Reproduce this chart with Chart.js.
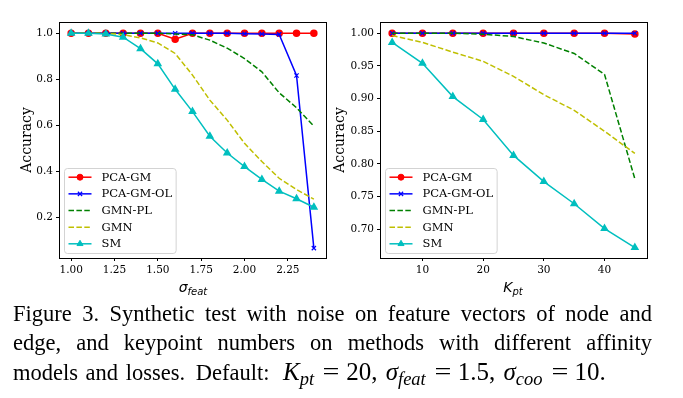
<!DOCTYPE html>
<html>
<head>
<meta charset="utf-8">
<script src="https://cdn.jsdelivr.net/npm/chart.js@4.4.0/dist/chart.umd.min.js"></script>
<style>
  html, body { margin: 0; padding: 0; background: #fff; }
  #page { position: relative; width: 683px; height: 398px; overflow: hidden; background: #fff; }
  canvas { position: absolute; top: 0; }
  .xtitle { position: absolute; width: 120px; text-align: center; font-family: "DejaVu Sans"; font-style: oblique; font-size: 14px; line-height: 16px; color: #000; }
  .xtitle sub { font-size: 10px; vertical-align: -3px; line-height: 0; }
  #caption { position: absolute; left: 13px; top: 299px; width: 639px; font-family: "Liberation Serif", "Times New Roman", serif; font-size: 22.5px; line-height: 29.3px; color: #000; }
  #caption .j { text-align: justify; text-align-last: justify; white-space: nowrap; }
  #caption .last { word-spacing: 2px; white-space: nowrap; }
  #caption .gap { display: inline-block; width: 3px; }
  #caption .math { font-size: 25px; word-spacing: 2px; line-height: 0; }
  #caption i { font-style: italic; }
  #caption sub { font-size: 18.5px; vertical-align: -5px; line-height: 0; font-style: italic; }
  #caption .eq { display: inline-block; width: 18px; margin: 0 6px 0 8px; text-align: center; transform: scaleX(1.2); }
</style>
</head>
<body>
<div id="page">
  <canvas id="featChart" width="335" height="300" style="left:0;width:335px;height:300px"></canvas>
  <canvas id="kptChart" width="353" height="300" style="left:330px;width:353px;height:300px"></canvas>
  <div class="xtitle" style="left:133px;top:279px"><span>σ</span><sub>feat</sub></div>
  <div class="xtitle" style="left:453px;top:279px"><span>K</span><sub>pt</sub></div>
  <div id="caption">
    <div class="j">Figure 3. Synthetic test with noise on feature vectors of node and</div>
    <div class="j">edge, and keypoint numbers on methods with different affinity</div>
    <div class="last">models and losses.<span class="gap"></span> Default:<span class="gap" style="width:6px"></span> <span class="math"><i>K</i><sub>pt</sub><span class="eq">=</span>20, <i>σ</i><sub>feat</sub><span class="eq">=</span>1.5, <i>σ</i><sub>coo</sub><span class="eq">=</span>10.</span></div>
  </div>
</div>
<script>
const methodLabels = ['PCA-GM', 'PCA-GM-OL', 'GMN-PL', 'GMN', 'SM'];

// left panel: noise on features
const sigmaFeat = [1.0, 1.1, 1.2, 1.3, 1.4, 1.5, 1.6, 1.7, 1.8, 1.9, 2.0, 2.1, 2.2, 2.3, 2.4];
const featPcaGm   = [1, 1, 1, 1, 1, 1, 0.974, 1, 1, 1, 1, 1, 1, 1, 1];
const featPcaGmOl = [1, 1, 1, 1, 1, 1, 1, 1, 1, 1, 0.998, 0.997, 0.995, 0.816, 0.065];
const featGmnPl   = [1, 1, 1, 1, 1, 1, 0.997, 0.993, 0.97, 0.935, 0.89, 0.832, 0.741, 0.676, 0.596];
const featGmn     = [1, 1, 1, 0.994, 0.98, 0.958, 0.912, 0.818, 0.709, 0.622, 0.521, 0.442, 0.369, 0.32, 0.278];
const featSm      = [1, 1, 0.997, 0.983, 0.933, 0.867, 0.756, 0.659, 0.552, 0.479, 0.42, 0.364, 0.313, 0.28, 0.243];
const featTicks = [1.00, 1.25, 1.50, 1.75, 2.00, 2.25];
const featAccTicks = [0.2, 0.4, 0.6, 0.8, 1.0];

// right panel: number of keypoints
const kpt = [5, 10, 15, 20, 25, 30, 35, 40, 45];
const kptPcaGm   = [1, 1, 1, 1, 1, 1, 1, 1, 0.999];
const kptPcaGmOl = [1, 1, 1, 1, 1, 1, 1, 1, 1];
const kptGmnPl   = [1, 1, 1, 0.9985, 0.995, 0.985, 0.969, 0.937, 0.777];
const kptGmn     = [0.9965, 0.986, 0.971, 0.957, 0.934, 0.906, 0.882, 0.85, 0.816];
const kptSm      = [0.986, 0.954, 0.903, 0.868, 0.813, 0.773, 0.739, 0.701, 0.672];
const kptTicks = [10, 20, 30, 40];
const kptAccTicks = [0.70, 0.75, 0.80, 0.85, 0.90, 0.95, 1.00];

const tickFont = { family: 'DejaVu Serif', size: 10.5 };
const legendFont = '11.5px "DejaVu Serif"';

const methodStyles = [
  { borderColor: '#ff0000', pointStyle: 'circle', pointRadius: 3, pointBackgroundColor: '#ff0000', pointBorderColor: '#ff0000', order: 5 },
  { borderColor: '#0000ff', pointStyle: 'crossRot', pointRadius: 3, pointBackgroundColor: '#0000ff', pointBorderColor: '#0000ff', pointBorderWidth: 1.2, order: 4 },
  { borderColor: '#008000', pointRadius: 0, borderDash: [5.5, 2.4], order: 3 },
  { borderColor: '#bfbf00', pointRadius: 0, borderDash: [5.5, 2.4], order: 2 },
  { borderColor: '#00bfbf', pointStyle: 'triangle', pointRadius: 3.5, pointBackgroundColor: '#00bfbf', pointBorderColor: '#00bfbf', order: 1 }
];

// black box around the axes plus a matplotlib style legend in the lower left corner
const frameAndLegend = {
  id: 'frameAndLegend',
  afterDatasetsDraw(chart) {
    const ctx = chart.ctx;
    const a = chart.chartArea;
    ctx.save();
    ctx.setLineDash([]);
    ctx.strokeStyle = '#000';
    ctx.lineWidth = 1;
    ctx.strokeRect(Math.round(a.left) + 0.5, Math.round(a.top) + 0.5,
      Math.round(a.right) - Math.round(a.left), Math.round(a.bottom) - Math.round(a.top));

    const items = chart.data.datasets;
    ctx.font = legendFont;
    const textW = Math.max(...items.map(d => ctx.measureText(d.label).width));
    const rowH = 16.65;
    const boxX = Math.round(a.left) + 5.5;
    const boxW = 37 + textW + 4;
    const boxH = 85;
    const boxY = Math.round(a.bottom) - 5 - boxH + 0.5;
    ctx.beginPath();
    ctx.roundRect(boxX, boxY, boxW, boxH, 3);
    ctx.fillStyle = 'rgba(255,255,255,0.8)';
    ctx.fill();
    ctx.strokeStyle = '#d3d3d3';
    ctx.stroke();

    items.forEach((d, i) => {
      const y = boxY + 8.7 + i * rowH;
      ctx.strokeStyle = d.borderColor;
      ctx.lineWidth = d.borderWidth;
      ctx.setLineDash(d.borderDash || []);
      ctx.beginPath();
      ctx.moveTo(boxX + 4, y);
      ctx.lineTo(boxX + 27, y);
      ctx.stroke();
      ctx.setLineDash([]);
      if (d.pointRadius > 0) {
        ctx.fillStyle = d.pointBackgroundColor;
        ctx.strokeStyle = d.pointBorderColor;
        ctx.lineWidth = d.pointBorderWidth || 1;
        Chart.helpers.drawPoint(ctx, { pointStyle: d.pointStyle, radius: d.pointRadius, rotation: 0, borderWidth: ctx.lineWidth }, boxX + 15.5, y);
      }
      ctx.fillStyle = '#000';
      ctx.textBaseline = 'middle';
      ctx.textAlign = 'left';
      ctx.fillText(d.label, boxX + 37, y + 0.5);
    });
    ctx.restore();
  }
};

function drawAccuracyChart(canvasId, xValues, seriesList, xRange, yRange, xTicks, yTicks, xDigits, yDigits, yAxisWidth, titlePad, rightPad) {
  const datasets = seriesList.map((values, i) => Object.assign({
    label: methodLabels[i],
    data: values.map((v, j) => ({ x: xValues[j], y: v })),
    borderWidth: 1.5,
    fill: false,
    tension: 0
  }, methodStyles[i]));

  return new Chart(document.getElementById(canvasId), {
    type: 'line',
    data: { datasets: datasets },
    plugins: [frameAndLegend],
    options: {
      responsive: false,
      animation: false,
      devicePixelRatio: 1,
      layout: { padding: { top: 22, right: rightPad, left: 0, bottom: 0 } },
      plugins: {
        legend: { display: false },
        tooltip: { enabled: false }
      },
      scales: {
        x: {
          type: 'linear',
          min: xRange[0],
          max: xRange[1],
          afterBuildTicks: s => { s.ticks = xTicks.map(v => ({ value: v })); },
          afterFit: s => { s.height = 42; },
          ticks: { font: tickFont, color: '#000', padding: 3, maxRotation: 0, autoSkip: false, callback: v => v.toFixed(xDigits) },
          grid: { drawOnChartArea: false, drawTicks: true, tickLength: 3, color: '#000' },
          border: { color: '#000', width: 1 }
        },
        y: {
          type: 'linear',
          min: yRange[0],
          max: yRange[1],
          afterBuildTicks: s => { s.ticks = yTicks.map(v => ({ value: v })); },
          afterFit: s => { s.width = yAxisWidth; },
          ticks: { font: tickFont, color: '#000', padding: 3, autoSkip: false, callback: v => v.toFixed(yDigits) },
          grid: { drawOnChartArea: false, drawTicks: true, tickLength: 3, color: '#000' },
          border: { color: '#000', width: 1 },
          title: {
            display: true,
            text: 'Accuracy',
            color: '#000',
            font: { family: 'DejaVu Serif', size: 14 },
            padding: { top: titlePad, bottom: 0 }
          }
        }
      }
    }
  });
}

drawAccuracyChart('featChart', sigmaFeat,
  [featPcaGm, featPcaGmOl, featGmnPl, featGmn, featSm],
  [0.93, 2.47], [0.022, 1.049], featTicks, featAccTicks, 2, 1, 59, 18.6, 9);

drawAccuracyChart('kptChart', kpt,
  [kptPcaGm, kptPcaGmOl, kptGmnPl, kptGmn, kptSm],
  [3, 47], [0.656, 1.0172], kptTicks, kptAccTicks, 0, 2, 50, 1.6, 36);
</script>
</body>
</html>
